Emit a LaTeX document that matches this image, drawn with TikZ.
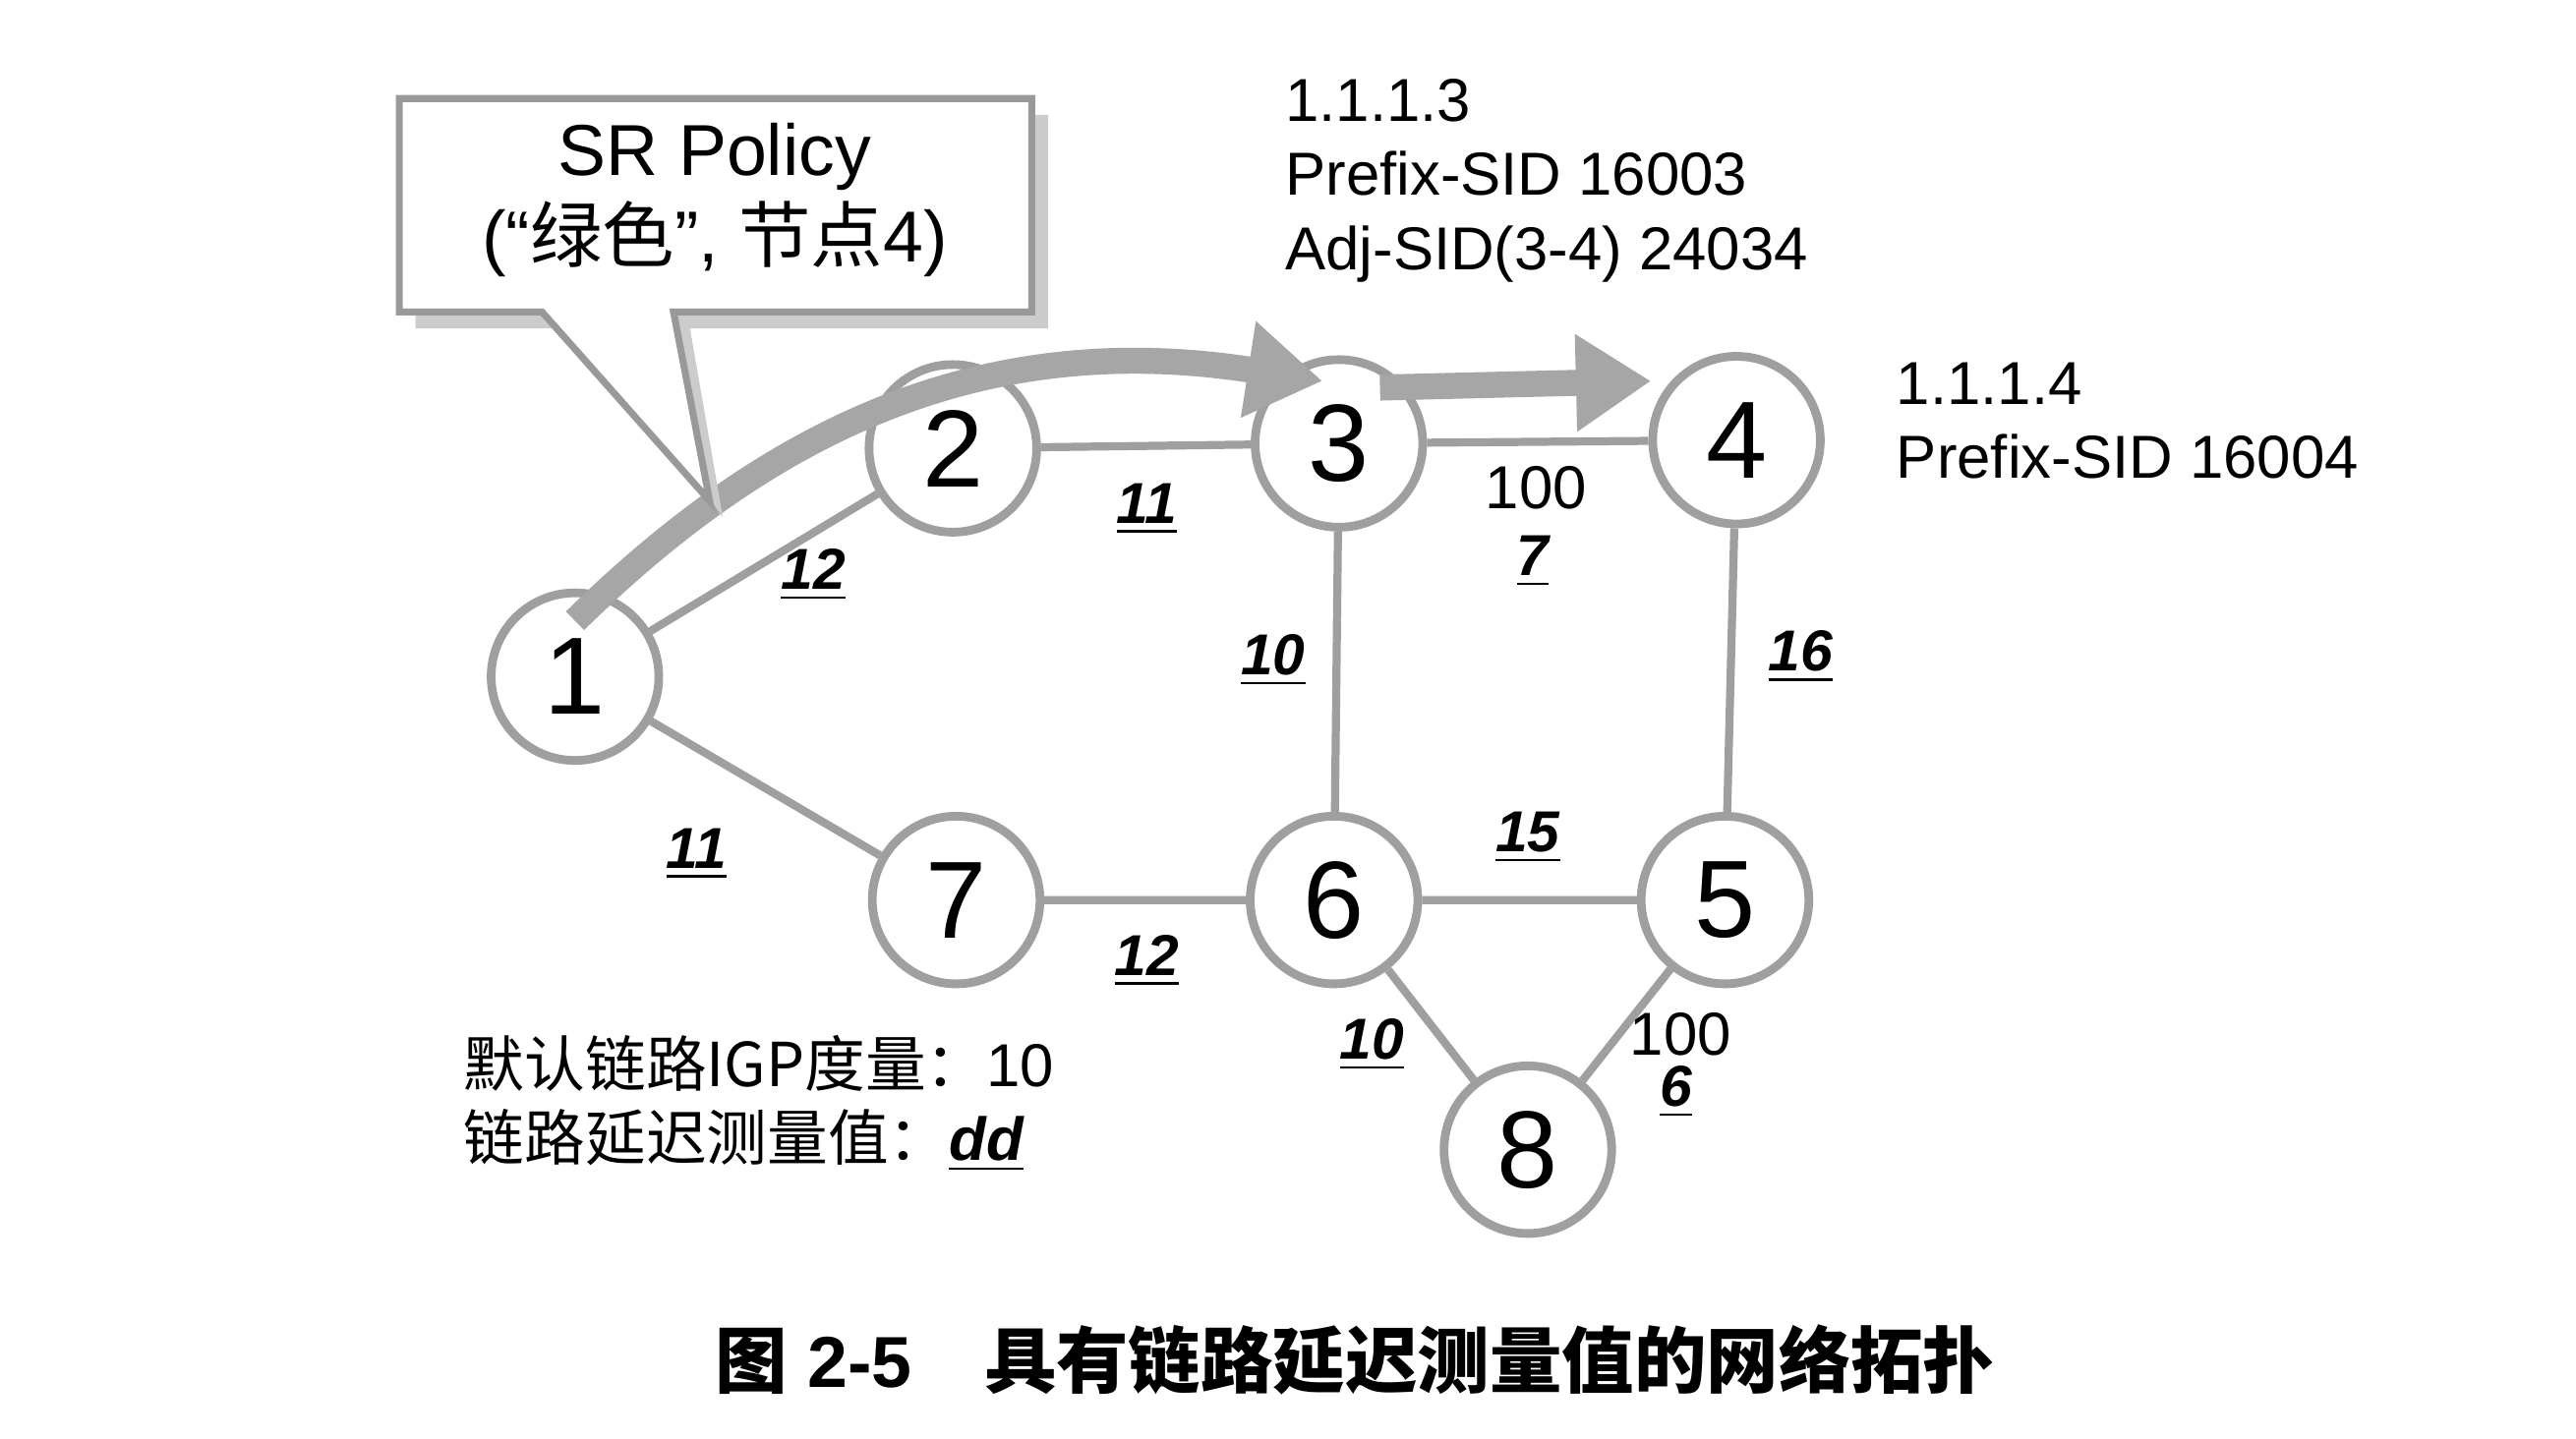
\documentclass[tikz,border=0pt]{standalone}
\usepackage{fontspec}
\setmainfont{Liberation Sans}
\newfontfamily\cjk{Noto Sans CJK SC}
\usetikzlibrary{arrows.meta,calc}
\begin{document}
\begin{tikzpicture}[x=0.01cm,y=-0.01cm,
  nd/.style={circle,draw=gray!75,line width=1.5pt,fill=white,minimum size=1.02cm,inner sep=0pt,font=\fontsize{19}{19}\selectfont},
  ln/.style={draw=gray!75,line width=1.4pt},
  dl/.style={font=\bfseries\itshape\fontsize{10}{10}\selectfont},
  wl/.style={font=\fontsize{10.5}{10.5}\selectfont},
  tx/.style={font=\fontsize{10.5}{12.8}\selectfont,align=left,anchor=west},
  pth/.style={draw=gray!70,line width=4.5pt,-{Triangle[length=13pt,width=16pt]}}]
\useasboundingbox (0,0) rectangle (1568,876);
\fill[white] (0,0) rectangle (1568,876);
\node[nd] (n1) at (350,412) {1};
\node[nd] (n2) at (580,273) {2};
\node[nd] (n3) at (815,270) {3};
\node[nd] (n4) at (1057,268) {4};
\node[nd] (n7) at (582,548) {7};
\node[nd] (n6) at (812,548) {6};
\node[nd] (n5) at (1050,548) {5};
\node[nd] (n8) at (930,700) {8};
\path[ln] (n1)--(n2) (n2)--(n3) (n3)--(n4) (n1)--(n7) (n7)--(n6) (n3)--(n6) (n6)--(n5) (n4)--(n5) (n6)--(n8) (n8)--(n5);
% policy path
\coordinate (p0) at (350,378);
\coordinate (p1) at (805,232);
\coordinate (p2) at (840,236);
\coordinate (p3) at (1005,232);
\draw[pth] (p0) .. controls (470,260) and (600,200) .. (p1);
\draw[pth] (p2) -- (p3);
% labels
\node[dl] (l12a) at (495,350) {\underline{12}};
\node[dl] (l11a) at (698,310) {\underline{11}};
\node[wl] (w100a) at (935,297) {100};
\node[dl] (l7) at (933,342) {\underline{7}};
\node[dl] (l10a) at (775,402) {\underline{10}};
\node[dl] (l16) at (1096,400) {\underline{16}};
\node[dl] (l15) at (930,510) {\underline{15}};
\node[dl] (l11b) at (424,520) {\underline{11}};
\node[dl] (l12b) at (698,585) {\underline{12}};
\node[dl] (l10b) at (835,636) {\underline{10}};
\node[wl] (w100b) at (1023,630) {100};
\node[dl] (l6) at (1020,665) {\underline{6}};
\node[tx] (t3) at (770,110) {1.1.1.3\\Prefix-SID 16003\\Adj-SID(3-4) 24034};
\node[tx] (t4) at (1142,256) {1.1.1.4\\Prefix-SID 16004};
\node[tx] (leg) at (270,672) {{\cjk 默认链路IGP度量：}10\\{\cjk 链路延迟测量值：}\textbf{\textit{\underline{dd}}}};
% callout
\fill[gray!40] (253,70) -- (638,70) -- (638,200) -- (420,200) -- (440,315) -- (360,200) -- (253,200) -- cycle;
\draw[gray!80,line width=1.2pt,fill=white] (243,60) -- (628,60) -- (628,190) -- (410,190) -- (432,305) -- (330,190) -- (243,190) -- cycle;
\node[font=\fontsize{12.5}{15}\selectfont,align=center] (co) at (435,122) {SR Policy\\(“{\cjk 绿色}”, {\cjk 节点}4)};
\node[font=\bfseries\fontsize{12.5}{12.5}\selectfont] (cap) at (825,828) {{\cjk 图} 2-5\quad{\cjk 具有链路延迟测量值的网络拓扑}};
\end{tikzpicture}
\end{document}
